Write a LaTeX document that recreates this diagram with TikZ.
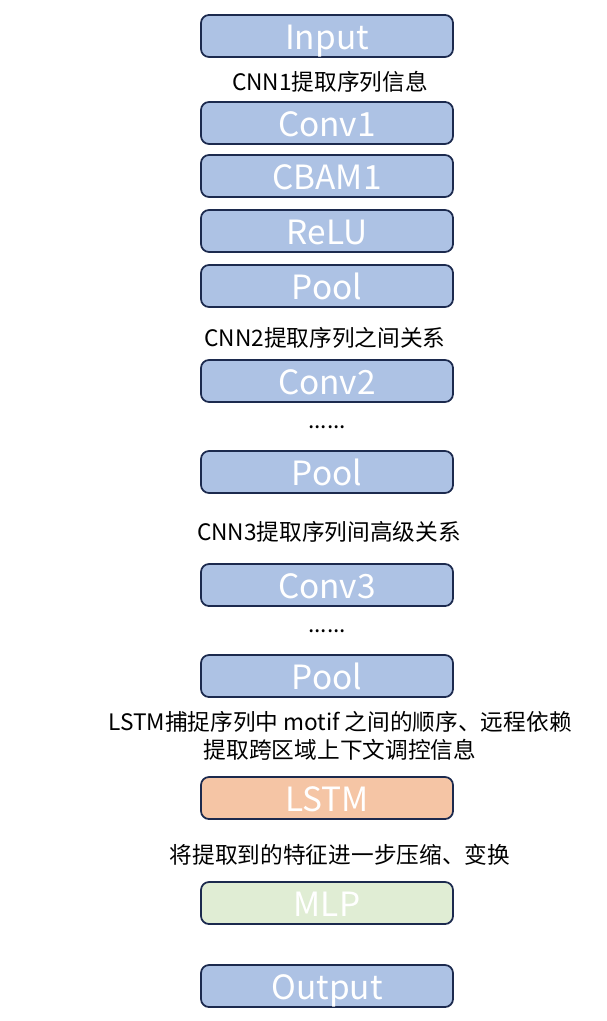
\documentclass[tikz,border=0pt]{standalone}
\usepackage{fontspec}
\setmainfont{Noto Sans CJK SC}
\usetikzlibrary{positioning}
\definecolor{boxB}{RGB}{173,194,228}
\definecolor{boxO}{RGB}{245,197,165}
\definecolor{boxG}{RGB}{224,237,212}
\definecolor{edgeN}{RGB}{28,42,78}

\begin{document}
\begin{tikzpicture}[font=\fontsize{12.9}{16}\selectfont,
  b/.style={rectangle, rounded corners=1.6mm, draw=edgeN, fill=boxB, line width=1pt,
            minimum width=50.4mm, minimum height=8.4mm, inner sep=0pt,
            text height=15.8pt, text depth=0pt,
            text=white, font=\fontsize{19}{22}\selectfont},
  t/.style={align=center, inner sep=1pt},
  d/.style={anchor=base, inner sep=0pt}]
  \useasboundingbox (-6.54,0) rectangle (5.58,-20.42);
  \node[b] (in) at (0,-0.72) {Input};
  \node[t] (t1) at (0.06,-1.64) {CNN1提取序列信息};
  \node[b] (c1) at (0,-2.46) {Conv1};
  \node[b] (cb1) at (0,-3.52) {CBAM1};
  \node[b] (re1) at (0,-4.62) {ReLU};
  \node[b] (p1) at (0,-5.72) {Pool};
  \node[t] (t2) at (-0.04,-6.76) {CNN2提取序列之间关系};
  \node[b] (c2) at (0,-7.62) {Conv2};
  \node[d] (d2) at (0,-8.56) {......};
  \node[b] (p2) at (0,-9.44) {Pool};
  \node[t] (t3) at (0.04,-10.64) {CNN3提取序列间高级关系};
  \node[b] (c3) at (0,-11.70) {Conv3};
  \node[d] (d3) at (0,-12.64) {......};
  \node[b] (p3) at (0,-13.52) {Pool};
  \node[t, font=\fontsize{12.9}{15.9}\selectfont] (t4) at (0.26,-14.72)
    {LSTM捕捉序列中 motif 之间的顺序、远程依赖\\提取跨区域上下文调控信息};
  \node[b, fill=boxO] (lstm) at (0,-15.96) {LSTM};
  \node[t] (t5) at (0.26,-17.10) {将提取到的特征进一步压缩、变换};
  \node[b, fill=boxG] (mlp) at (0,-18.06) {MLP};
  \node[b] (out) at (0,-19.72) {Output};
\end{tikzpicture}
\end{document}
